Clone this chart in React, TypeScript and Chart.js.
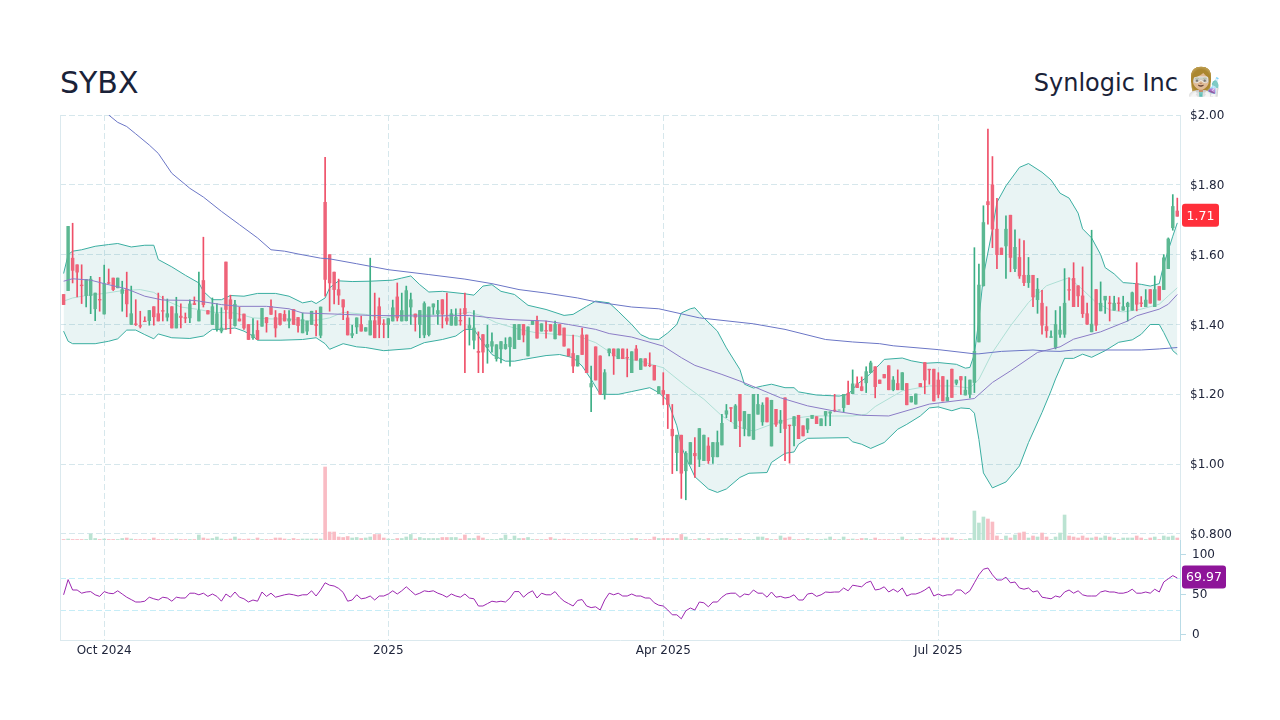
import { useEffect, useRef } from 'react';
import Chart from 'chart.js/auto';

const opens = [
	1.486, 1.497, 1.59, 1.571, 1.513, 1.483, 1.483, 1.445, 1.472, 1.43,
	1.52, 1.533, 1.505, 1.489, 1.5, 1.4, 1.402, 1.397, 1.41, 1.411,
	1.451, 1.431, 1.44, 1.421, 1.451, 1.39, 1.424, 1.42, 1.419, 1.46,
	1.41, 1.526, 1.44, 1.4, 1.388, 1.381, 1.579, 1.471, 1.397, 1.416,
	1.43, 1.4, 1.362, 1.383, 1.395, 1.42, 1.452, 1.42, 1.431, 1.429,
	1.41, 1.443, 1.42, 1.376, 1.381, 1.4, 1.4, 1.369, 1.75, 1.6,
	1.55, 1.5, 1.471, 1.419, 1.369, 1.393, 1.4, 1.381, 1.37, 1.411,
	1.451, 1.402, 1.4, 1.41, 1.479, 1.41, 1.411, 1.45, 1.43, 1.4,
	1.37, 1.371, 1.45, 1.431, 1.471, 1.419, 1.398, 1.398, 1.412, 1.446,
	1.389, 1.355, 1.323, 1.371, 1.335, 1.338, 1.302, 1.33, 1.331, 1.336,
	1.331, 1.357, 1.4, 1.31, 1.4, 1.411, 1.381, 1.383, 1.4, 1.359,
	1.4, 1.39, 1.33, 1.317, 1.281, 1.37, 1.37, 1.221, 1.336, 1.31,
	1.2, 1.319, 1.33, 1.302, 1.33, 1.306, 1.262, 1.33, 1.271, 1.302,
	1.284, 1.283, 1.202, 1.211, 1.2, 1.1, 1.033, 1.083, 0.981, 1.0,
	1.031, 1.014, 1.01, 1.052, 1.021, 1.021, 1.055, 1.143, 1.162, 1.102,
	1.2, 1.102, 1.081, 1.071, 1.143, 1.121, 1.19, 1.052, 1.157, 1.117,
	1.19, 1.112, 1.11, 1.14, 1.11, 1.1, 1.131, 1.136, 1.11, 1.14,
	1.146, 1.155, 1.155, 1.162, 1.203, 1.202, 1.23, 1.222, 1.233, 1.262,
	1.279, 1.241, 1.257, 1.282, 1.213, 1.231, 1.213, 1.231, 1.178, 1.172,
	1.231, 1.291, 1.272, 1.272, 1.241, 1.251, 1.181, 1.272, 1.232, 1.251,
	1.198, 1.2, 1.234, 1.35, 1.511, 1.752, 1.8, 1.673, 1.619, 1.625,
	1.713, 1.56, 1.592, 1.541, 1.52, 1.541, 1.471, 1.461, 1.394, 1.363,
	1.334, 1.372, 1.372, 1.5, 1.532, 1.511, 1.482, 1.431, 1.379, 1.5,
	1.439, 1.47, 1.462, 1.441, 1.462, 1.441, 1.451, 1.441, 1.518, 1.462,
	1.451, 1.5, 1.451, 1.509, 1.5, 1.56, 1.677, 1.725,
];
const closes = [
	1.457, 1.681, 1.555, 1.55, 1.511, 1.529, 1.53, 1.49, 1.47, 1.517,
	1.518, 1.5, 1.533, 1.5, 1.459, 1.431, 1.4, 1.395, 1.408, 1.44,
	1.422, 1.41, 1.438, 1.431, 1.39, 1.431, 1.42, 1.418, 1.459, 1.457,
	1.44, 1.457, 1.43, 1.451, 1.431, 1.39, 1.443, 1.417, 1.458, 1.41,
	1.39, 1.357, 1.371, 1.357, 1.446, 1.405, 1.429, 1.39, 1.4, 1.41,
	1.416, 1.4, 1.397, 1.414, 1.41, 1.438, 1.397, 1.45, 1.529, 1.519,
	1.5, 1.484, 1.45, 1.37, 1.374, 1.419, 1.381, 1.391, 1.411, 1.362,
	1.4, 1.4, 1.417, 1.448, 1.419, 1.44, 1.497, 1.471, 1.421, 1.44,
	1.46, 1.45, 1.459, 1.44, 1.43, 1.41, 1.431, 1.421, 1.41, 1.43,
	1.397, 1.39, 1.32, 1.321, 1.343, 1.351, 1.342, 1.351, 1.343, 1.362,
	1.4, 1.4, 1.37, 1.393, 1.411, 1.361, 1.402, 1.381, 1.381, 1.4,
	1.37, 1.338, 1.31, 1.281, 1.311, 1.314, 1.262, 1.231, 1.241, 1.2,
	1.262, 1.33, 1.31, 1.33, 1.302, 1.304, 1.322, 1.298, 1.302, 1.281,
	1.282, 1.241, 1.222, 1.2, 1.171, 1.081, 1.083, 0.974, 1.031, 1.062,
	1.024, 1.102, 1.083, 1.01, 1.062, 1.062, 1.117, 1.153, 1.16, 1.167,
	1.124, 1.151, 1.143, 1.2, 1.171, 1.169, 1.121, 1.183, 1.114, 1.126,
	1.102, 1.11, 1.136, 1.073, 1.081, 1.13, 1.14, 1.116, 1.13, 1.151,
	1.15, 1.153, 1.155, 1.2, 1.171, 1.23, 1.219, 1.211, 1.265, 1.29,
	1.222, 1.231, 1.247, 1.213, 1.241, 1.213, 1.262, 1.17, 1.194, 1.201,
	1.222, 1.241, 1.27, 1.181, 1.2, 1.181, 1.191, 1.191, 1.241, 1.241,
	1.212, 1.241, 1.323, 1.513, 1.692, 1.743, 1.673, 1.6, 1.6, 1.673,
	1.592, 1.621, 1.539, 1.52, 1.541, 1.479, 1.501, 1.398, 1.382, 1.365,
	1.4, 1.384, 1.461, 1.498, 1.451, 1.482, 1.431, 1.401, 1.401, 1.398,
	1.461, 1.481, 1.46, 1.461, 1.46, 1.451, 1.461, 1.491, 1.458, 1.46,
	1.47, 1.461, 1.5, 1.47, 1.591, 1.645, 1.738, 1.71,
];
const highs = [
	1.486, 1.681, 1.69, 1.571, 1.571, 1.529, 1.538, 1.49, 1.535, 1.57,
	1.559, 1.533, 1.533, 1.524, 1.55, 1.51, 1.471, 1.438, 1.422, 1.44,
	1.451, 1.49, 1.481, 1.473, 1.451, 1.478, 1.459, 1.433, 1.471, 1.479,
	1.55, 1.65, 1.44, 1.476, 1.46, 1.448, 1.579, 1.484, 1.469, 1.45,
	1.43, 1.4, 1.417, 1.411, 1.446, 1.42, 1.471, 1.44, 1.431, 1.44,
	1.44, 1.443, 1.42, 1.433, 1.41, 1.438, 1.44, 1.45, 1.879, 1.6,
	1.55, 1.53, 1.471, 1.438, 1.398, 1.419, 1.424, 1.391, 1.59, 1.49,
	1.476, 1.414, 1.417, 1.47, 1.519, 1.49, 1.51, 1.49, 1.43, 1.44,
	1.465, 1.45, 1.459, 1.469, 1.471, 1.49, 1.443, 1.445, 1.445, 1.49,
	1.419, 1.44, 1.379, 1.371, 1.398, 1.376, 1.342, 1.351, 1.362, 1.364,
	1.4, 1.4, 1.4, 1.393, 1.411, 1.424, 1.402, 1.41, 1.4, 1.41,
	1.4, 1.39, 1.33, 1.37, 1.311, 1.39, 1.37, 1.281, 1.336, 1.31,
	1.271, 1.33, 1.33, 1.33, 1.33, 1.33, 1.322, 1.34, 1.302, 1.302,
	1.319, 1.283, 1.222, 1.262, 1.2, 1.171, 1.083, 1.083, 1.036, 1.062,
	1.076, 1.102, 1.083, 1.076, 1.062, 1.095, 1.143, 1.171, 1.162, 1.171,
	1.2, 1.151, 1.143, 1.2, 1.2, 1.176, 1.19, 1.183, 1.157, 1.154,
	1.19, 1.112, 1.136, 1.14, 1.11, 1.13, 1.14, 1.136, 1.13, 1.151,
	1.15, 1.2, 1.155, 1.2, 1.238, 1.27, 1.25, 1.25, 1.279, 1.295,
	1.279, 1.241, 1.257, 1.282, 1.251, 1.27, 1.262, 1.231, 1.194, 1.201,
	1.231, 1.291, 1.272, 1.272, 1.262, 1.251, 1.241, 1.272, 1.241, 1.251,
	1.251, 1.241, 1.62, 1.573, 1.74, 1.96, 1.881, 1.761, 1.619, 1.711,
	1.713, 1.671, 1.645, 1.64, 1.592, 1.541, 1.532, 1.498, 1.451, 1.382,
	1.44, 1.451, 1.56, 1.534, 1.577, 1.511, 1.565, 1.461, 1.67, 1.5,
	1.522, 1.481, 1.481, 1.481, 1.477, 1.481, 1.464, 1.493, 1.577, 1.48,
	1.5, 1.5, 1.539, 1.509, 1.6, 1.648, 1.772, 1.762,
];
const lows = [
	1.457, 1.497, 1.519, 1.479, 1.46, 1.45, 1.431, 1.411, 1.438, 1.43,
	1.517, 1.497, 1.505, 1.438, 1.422, 1.4, 1.397, 1.39, 1.408, 1.398,
	1.398, 1.41, 1.41, 1.41, 1.39, 1.39, 1.39, 1.405, 1.405, 1.457,
	1.41, 1.45, 1.43, 1.4, 1.381, 1.376, 1.386, 1.374, 1.395, 1.41,
	1.386, 1.357, 1.357, 1.357, 1.395, 1.378, 1.429, 1.364, 1.398, 1.41,
	1.39, 1.4, 1.378, 1.376, 1.371, 1.4, 1.367, 1.362, 1.481, 1.438,
	1.459, 1.457, 1.414, 1.37, 1.362, 1.374, 1.381, 1.381, 1.37, 1.362,
	1.362, 1.362, 1.362, 1.41, 1.41, 1.41, 1.41, 1.4, 1.381, 1.362,
	1.362, 1.367, 1.429, 1.4, 1.39, 1.4, 1.398, 1.398, 1.398, 1.262,
	1.341, 1.33, 1.262, 1.262, 1.289, 1.321, 1.295, 1.29, 1.329, 1.281,
	1.331, 1.357, 1.35, 1.31, 1.4, 1.361, 1.381, 1.361, 1.381, 1.359,
	1.37, 1.338, 1.31, 1.262, 1.281, 1.314, 1.262, 1.15, 1.241, 1.2,
	1.186, 1.31, 1.257, 1.302, 1.302, 1.25, 1.262, 1.298, 1.271, 1.281,
	1.279, 1.241, 1.202, 1.17, 1.102, 0.973, 0.981, 0.902, 0.898, 1.0,
	0.962, 0.993, 1.01, 1.002, 1.002, 1.021, 1.055, 1.133, 1.122, 1.102,
	1.05, 1.081, 1.081, 1.071, 1.143, 1.111, 1.121, 1.052, 1.108, 1.09,
	1.01, 1.003, 1.052, 1.073, 1.081, 1.09, 1.131, 1.116, 1.11, 1.11,
	1.11, 1.15, 1.155, 1.15, 1.171, 1.202, 1.219, 1.21, 1.205, 1.262,
	1.19, 1.231, 1.247, 1.213, 1.21, 1.213, 1.213, 1.17, 1.178, 1.172,
	1.222, 1.202, 1.229, 1.181, 1.19, 1.181, 1.181, 1.191, 1.227, 1.2,
	1.198, 1.19, 1.205, 1.35, 1.51, 1.687, 1.62, 1.56, 1.6, 1.532,
	1.551, 1.551, 1.532, 1.511, 1.506, 1.451, 1.432, 1.372, 1.363, 1.363,
	1.33, 1.363, 1.363, 1.47, 1.451, 1.451, 1.42, 1.4, 1.379, 1.382,
	1.439, 1.432, 1.41, 1.441, 1.439, 1.441, 1.41, 1.441, 1.439, 1.451,
	1.451, 1.461, 1.451, 1.47, 1.5, 1.56, 1.67, 1.71,
];

// hundred thousand shares
const volumes = [
	0.5, 1, 0.5, 0.5, 0.5, 0.5, 6, 1.5, 0.5, 1,
	0.5, 0.5, 0.5, 1.5, 2, 1, 0.5, 0.5, 0.5, 0.5,
	2, 0.5, 0.5, 0.5, 0.5, 1, 0.5, 0.5, 0.5, 0.5,
	5, 2, 1, 1.5, 3, 1, 0.5, 1, 3, 1,
	0.5, 1, 0.5, 2, 0.5, 0.5, 0.5, 2, 2, 1,
	0.5, 1.5, 0.5, 1, 1, 1, 1, 1, 73, 8,
	8, 3, 2.5, 3.5, 2, 2.5, 1.5, 2, 3, 5.5,
	5.5, 2, 1, 0.5, 1.5, 1.5, 3, 5.5, 1, 2.5,
	1.5, 1.5, 1.5, 1.5, 2.5, 2.5, 2.5, 2.5, 1, 5,
	1.5, 1.5, 4, 2, 0.5, 0.5, 0.5, 1.5, 5, 0.5,
	4, 1.5, 1.5, 2.5, 0.5, 0.5, 0.5, 0.5, 2.5, 1,
	0.5, 1, 0.5, 0.5, 0.5, 0.5, 0.5, 0.5, 0.5, 0.5,
	0.5, 0.5, 0.5, 0.5, 0.5, 0.5, 1.5, 1.5, 0.5, 0.5,
	0.5, 3, 1.5, 1.5, 1.5, 1.5, 1.5, 5.5, 3, 0.5,
	0.5, 1.5, 0.5, 1.5, 0.5, 1, 1.5, 1.5, 0.5, 0.5,
	1.5, 0.5, 0.5, 0.5, 3, 3, 1.5, 0.5, 0.5, 4,
	2, 3, 0.5, 0.5, 0.5, 1.5, 0.5, 0.5, 0.5, 1,
	3, 0.5, 0.5, 3, 0.5, 1, 0.5, 1.5, 1.5, 0.5,
	2, 0.5, 0.5, 0.5, 0.5, 0.5, 3, 0.5, 0.5, 0.5,
	1.5, 0.5, 0.5, 2, 0.5, 2, 2, 2, 0.5, 0.5,
	0.5, 1.5, 29, 17, 23, 21, 18, 4, 0.5, 4,
	2, 5, 7, 8, 2, 4, 3, 7, 3, 0.5,
	3, 7, 25, 4, 3, 2, 4, 2, 2, 3,
	2, 4, 3, 2, 0.5, 2, 2, 2, 4, 2,
	0.5, 2, 3, 0.5, 4, 3, 4, 2,
];

const rsi = [
	49, 68, 55, 55, 51, 52.5, 53, 49, 47, 53,
	51, 50.4, 54, 50, 46, 43, 40, 40, 41, 46,
	44, 42.5, 46, 45, 41, 46, 45, 45, 51, 51,
	49, 51, 47, 50, 47, 41, 50, 46, 52.5, 46,
	44, 40, 42.5, 41, 52.5, 47, 51, 46, 47.5, 49,
	50, 49, 47.5, 49, 49, 54, 47.5, 55, 64, 61,
	60, 57, 52, 41, 42.5, 49, 44, 45, 47.5, 42.5,
	47.5, 47.5, 50, 54, 50, 54, 59, 54, 49, 51,
	54, 53, 54, 51, 49, 46, 50, 47.5, 46, 50,
	45, 44, 35, 35, 38, 41, 40, 41, 40, 45,
	53, 53, 46, 51, 54, 45, 51, 49, 49, 53,
	46, 41, 38, 35, 42, 43, 35, 33, 34, 30,
	42.5, 51, 49, 51, 47.5, 47.5, 50, 47.5, 47.5, 45,
	45, 39, 36, 35, 30, 24, 24, 19, 29, 32.5,
	30, 40, 39, 34, 40, 40, 46, 50, 51, 51,
	46, 50, 49, 55, 51, 51, 46, 52.5, 46, 47,
	45, 46, 49, 42.5, 42.5, 50, 51, 47, 49, 52.5,
	52, 52.5, 52.5, 57.5, 54, 61, 60, 59, 64, 66,
	55, 56, 59, 52.5, 56, 52.5, 57.5, 47.5, 50, 50,
	52, 55, 59, 47.5, 50, 47.5, 49, 49, 55, 55,
	50, 54, 64, 74, 81, 82.5, 74, 67.5, 67.5, 71,
	64, 65, 57.5, 56, 57.5, 52.5, 54, 46, 45, 44,
	47.5, 46, 52.5, 55, 51, 54, 49, 47.5, 47.5, 47.5,
	52.5, 54, 52.5, 52.5, 51, 51, 52.5, 56, 51, 51,
	52.5, 51, 56, 52.5, 65, 69, 73, 69.97,
];

// overlay lines, bar number and value at each corner of the line
const bbUpperAt = [
	0, 1, 2, 4, 7, 10, 12, 15, 18, 20, 21, 24, 27, 30, 31, 33, 35, 37, 40, 43, 47, 50, 53, 55, 56, 58,
	59, 61, 64, 68, 73, 75, 77, 79, 81, 84, 89, 91, 93, 95, 97, 100, 103, 107, 111, 113, 116, 118, 121,
	123, 126, 128, 130, 132, 134, 136, 137, 139, 140, 142, 145, 147, 150, 151, 153, 155, 157, 160, 162, 163, 167, 172, 174, 176, 178, 181,
	182, 186, 188, 191, 194, 198, 200, 201, 202, 203, 204, 206, 207, 209, 212, 214, 217, 219, 221, 223, 225, 226, 228, 230, 231, 233, 235, 237, 239, 241, 243, 244, 246, 247,
];
const bbUpper = [
	1.546, 1.6, 1.61, 1.614, 1.624, 1.629, 1.632, 1.622, 1.627, 1.627, 1.586, 1.565, 1.541, 1.519, 1.495, 1.471, 1.471, 1.483, 1.481, 1.489, 1.489, 1.481, 1.462, 1.467, 1.46, 1.476,
	1.505, 1.525, 1.523, 1.524, 1.527, 1.533, 1.539, 1.514, 1.493, 1.495, 1.488, 1.484, 1.51, 1.514, 1.495, 1.486, 1.455, 1.443, 1.426, 1.429, 1.452, 1.467, 1.462,
	1.438, 1.4, 1.371, 1.359, 1.357, 1.376, 1.4, 1.433, 1.445, 1.448, 1.419, 1.381, 1.333, 1.271, 1.229, 1.218, 1.224, 1.229, 1.219, 1.219, 1.207, 1.198, 1.195, 1.2, 1.229, 1.248, 1.286,
	1.3, 1.304, 1.296, 1.289, 1.291, 1.286, 1.275, 1.277, 1.315, 1.415, 1.539, 1.673, 1.75, 1.797, 1.85, 1.861, 1.836, 1.814, 1.776, 1.762, 1.719, 1.674, 1.648, 1.6, 1.563, 1.545, 1.52, 1.518, 1.515, 1.51, 1.517, 1.572, 1.653, 1.691,
];
const bbLowerAt = [
	0, 1, 2, 7, 10, 12, 14, 16, 18, 20, 21, 24, 28, 31, 33, 35, 38, 40, 42, 43, 48, 53, 56, 58,
	59, 62, 65, 67, 71, 77, 80, 84, 87, 89, 91, 93, 95, 98, 100, 102, 107, 110, 113, 115, 117,
	119, 123, 126, 130, 132, 134, 136, 137, 138, 140, 143, 145, 147, 150, 152, 156, 157, 160, 162, 163, 165, 174, 175, 177, 179, 182,
	185, 187, 190, 192, 194, 197, 199, 201, 202, 203, 204, 206, 209, 212, 214, 217, 219, 220, 222, 224, 226, 228, 231, 234, 237, 239, 241, 243, 244, 246, 247,
];
const bbLower = [
	1.381, 1.352, 1.345, 1.345, 1.352, 1.359, 1.384, 1.384, 1.371, 1.359, 1.373, 1.362, 1.36, 1.367, 1.386, 1.386, 1.39, 1.381, 1.367, 1.355, 1.355, 1.357, 1.362, 1.345,
	1.329, 1.345, 1.336, 1.334, 1.325, 1.331, 1.348, 1.357, 1.367, 1.386, 1.386, 1.348, 1.314, 1.295, 1.295, 1.3, 1.311, 1.314, 1.305, 1.281, 1.243,
	1.2, 1.2, 1.208, 1.219, 1.205, 1.181, 1.11, 1.052, 1.019, 0.964, 0.929, 0.919, 0.929, 0.962, 0.974, 0.976, 1.005, 1.031, 1.035, 1.057, 1.074, 1.076, 1.064, 1.057, 1.045, 1.062,
	1.1, 1.114, 1.138, 1.161, 1.164, 1.153, 1.161, 1.159, 1.146, 1.071, 0.975, 0.932, 0.949, 0.995, 1.062, 1.148, 1.21, 1.244, 1.303, 1.303, 1.315, 1.306, 1.325, 1.349, 1.356, 1.372, 1.4, 1.4, 1.377, 1.325, 1.314,
];
const bbMidAt = [
	0, 2, 5, 9, 13, 17, 20, 23, 26, 30, 33, 38, 42, 46, 50, 54, 57,
	59, 62, 67, 70, 78, 85, 90, 93, 96, 101, 105, 110, 114, 118,
	123, 128, 133, 138, 142, 146, 150, 153, 157, 161, 166, 171, 175, 178,
	180, 186, 192, 197, 201, 203, 206, 210, 214, 218, 221, 223, 226, 229, 232, 235, 239, 243, 245, 247,
];
const bbMid = [
	1.467, 1.476, 1.483, 1.489, 1.497, 1.5, 1.492, 1.467, 1.45, 1.443, 1.435, 1.433, 1.419, 1.416, 1.416, 1.41, 1.414,
	1.419, 1.435, 1.429, 1.419, 1.429, 1.426, 1.435, 1.424, 1.405, 1.386, 1.376, 1.371, 1.367, 1.348,
	1.305, 1.295, 1.276, 1.224, 1.186, 1.138, 1.105, 1.095, 1.114, 1.13, 1.138, 1.138, 1.138, 1.143,
	1.165, 1.21, 1.224, 1.224, 1.218, 1.243, 1.32, 1.396, 1.463, 1.511, 1.525, 1.534, 1.5, 1.463, 1.442, 1.436, 1.444, 1.458, 1.482, 1.505,
];
const sma50At = [
	0, 2, 6, 9, 14, 18, 22, 29, 35, 39, 45, 50, 53, 60,
	68, 81, 90, 95, 99, 107, 112, 118, 121,
	126, 133, 137, 140, 146, 150, 154, 159, 165, 171, 177,
	183, 192, 202, 206, 210, 216, 221, 224, 230, 236, 238, 243, 245, 247,
];
const sma50 = [
	1.524, 1.531, 1.527, 1.517, 1.502, 1.481, 1.47, 1.469, 1.457, 1.452, 1.452, 1.445, 1.433, 1.43,
	1.426, 1.424, 1.426, 1.419, 1.414, 1.41, 1.4, 1.386, 1.374,
	1.364, 1.338, 1.305, 1.283, 1.257, 1.238, 1.217, 1.19, 1.167, 1.152, 1.14,
	1.138, 1.172, 1.188, 1.234, 1.267, 1.32, 1.336, 1.358, 1.379, 1.41, 1.425, 1.444, 1.458, 1.486,
];
const sma200At = [
	10, 12, 14, 16, 19, 21, 24, 28, 31, 35, 39, 43, 46, 49, 52, 57,
	59, 65, 72, 81, 89, 95, 101, 107, 114, 118,
	126, 132, 141, 153, 160, 169, 175, 181,
	184, 194, 202, 203, 208, 215, 218, 221, 224, 231, 239, 243, 247,
];
const sma200 = [
	2.0, 1.979, 1.967, 1.946, 1.914, 1.89, 1.833, 1.79, 1.765, 1.724, 1.686, 1.648, 1.614, 1.61, 1.602, 1.59,
	1.588, 1.574, 1.557, 1.543, 1.53, 1.517, 1.5, 1.49, 1.476, 1.465,
	1.45, 1.445, 1.419, 1.402, 1.386, 1.357, 1.35, 1.345,
	1.339, 1.328, 1.316, 1.316, 1.323, 1.327, 1.324, 1.323, 1.327, 1.327, 1.327, 1.33, 1.334,
];

const priceTicks = [0.8, 1.0, 1.2, 1.4, 1.6, 1.8, 2.0];
const priceTickLabels = ['$0.800', '$1.00', '$1.20', '$1.40', '$1.60', '$1.80', '$2.00'];
const rsiTicks = [0, 30, 50, 70, 100];
const rsiTickLabels = ['0', '', '50', '', '100'];
const dateTicks = [9, 72, 133, 194];
const dateTickLabels = ['Oct 2024', '2025', 'Apr 2025', 'Jul 2025'];
const lastPrice = 1.71;
const lastRsi = 69.97;

const FONT = '"DejaVu Sans", sans-serif';
const TEXT = '#20263c';
const GRID = '#d6e7ec';
const GRID_RSI = '#c6edf7';
const EDGE = '#dbe9ee';
const UP_BODY = '#5cb892';
const UP_WICK = '#3cae85';
const DOWN_BODY = '#ee6379';
const DOWN_WICK = '#ef4f68';
const X_MIN = -0.8;
const X_MAX = 247.6;

const isUp = closes.map((c, i) => c >= opens[i]);
const toPoints = (at: number[], values: number[]) =>
	at.map((x, i) => ({ x, y: values[i] }));

const line = (label: string, data: object[], color: string, order: number, extra = {}) => ({
	type: 'line' as const,
	label,
	data,
	borderColor: color,
	borderWidth: 1,
	pointRadius: 0,
	tension: 0,
	order,
	...extra,
});

const badge = (id: string, axis: string, value: number, text: string, color: string, width: number) => ({
	id,
	afterDraw(chart: any) {
		const ctx = chart.ctx;
		const y = chart.scales[axis].getPixelForValue(value);
		ctx.save();
		ctx.fillStyle = color;
		ctx.beginPath();
		ctx.roundRect(1182, y - 12.5, width, 23, 3);
		ctx.fill();
		ctx.fillStyle = '#ffffff';
		ctx.font = `12.5px ${FONT}`;
		ctx.textAlign = 'center';
		ctx.textBaseline = 'middle';
		ctx.fillText(text, 1182 + width / 2, y);
		ctx.restore();
	},
});

const leftEdge = {
	id: 'leftEdge',
	afterDraw(chart: any) {
		const { left, top, bottom } = chart.chartArea;
		const ctx = chart.ctx;
		ctx.save();
		ctx.strokeStyle = EDGE;
		ctx.beginPath();
		ctx.moveTo(left + 0.5, top);
		ctx.lineTo(left + 0.5, bottom);
		ctx.stroke();
		ctx.restore();
	},
};

// keep the plot rectangle exact, no room for half tick labels
const noScalePadding = (scale: any) => {
	scale.paddingTop = 0;
	scale.paddingBottom = 0;
	scale.paddingLeft = 0;
	scale.paddingRight = 0;
};

const xAxis = (showLabels: boolean, color: string) => ({
	type: 'linear' as const,
	min: X_MIN,
	max: X_MAX,
	offset: false,
	afterBuildTicks: (scale: any) => {
		scale.ticks = dateTicks.map((value) => ({ value }));
	},
	afterFit: (scale: any) => {
		scale.height = showLabels ? 20 : 0;
		noScalePadding(scale);
	},
	grid: { color, offset: false, drawTicks: false },
	border: { color: EDGE, dash: [6, 3] },
	ticks: {
		display: showLabels,
		autoSkip: false,
		maxRotation: 0,
		padding: 4,
		color: TEXT,
		font: { family: FONT, size: 12 },
		callback: (_v: any, i: number) => dateTickLabels[i],
	},
});

export default function App() {
	const priceRef = useRef<HTMLCanvasElement>(null);
	const rsiRef = useRef<HTMLCanvasElement>(null);

	useEffect(() => {
		if (!priceRef.current || !rsiRef.current) return;

		const priceChart = new Chart(priceRef.current, {
			type: 'bar',
			data: {
				datasets: [
					line('BB lower', toPoints(bbLowerAt, bbLower), '#3aaea1', 10),
					line('BB upper', toPoints(bbUpperAt, bbUpper), '#3aaea1', 11, {
						fill: { target: 0 },
						backgroundColor: 'rgba(38, 150, 150, 0.1)',
					}),
					line('BB mid', toPoints(bbMidAt, bbMid), '#aedfd5', 9),
					{
						type: 'bar',
						label: 'Volume',
						yAxisID: 'yVol',
						data: volumes.map((v, i) => ({ x: i, y: v })),
						backgroundColor: isUp.map((up) => (up ? '#bbe3d2' : '#f9bcc4')),
						barThickness: 3,
						grouped: false,
						order: 8,
					},
					{
						type: 'bar',
						label: 'Wick',
						data: highs.map((h, i) => ({ x: i, y: [lows[i], h] })),
						backgroundColor: isUp.map((up) => (up ? UP_WICK : DOWN_WICK)),
						barThickness: 1,
						grouped: false,
						order: 7,
					},
					{
						type: 'bar',
						label: 'Body',
						data: opens.map((o, i) => ({ x: i, y: [o, closes[i]] })),
						backgroundColor: isUp.map((up) => (up ? UP_BODY : DOWN_BODY)),
						barThickness: 2.8,
						grouped: false,
						order: 6,
					},
					line('SMA 50', toPoints(sma50At, sma50), '#8b7cc6', 2),
					line('SMA 200', toPoints(sma200At, sma200), '#6b76c6', 1),
				] as any,
			},
			options: {
				responsive: false,
				animation: false,
				events: [],
				layout: { padding: { left: 60, top: 115, right: 0, bottom: 0 } },
				plugins: { legend: { display: false }, tooltip: { enabled: false } },
				scales: {
					x: xAxis(false, GRID),
					y: {
						position: 'right',
						min: 0.7828,
						max: 2.0,
						afterBuildTicks: (scale: any) => {
							scale.ticks = priceTicks.map((value) => ({ value }));
						},
						afterFit: (scale: any) => {
							scale.width = 100;
							noScalePadding(scale);
						},
						grid: { color: GRID, drawTicks: false },
						border: { color: EDGE, dash: [6, 3] },
						ticks: {
							padding: 10,
							labelOffset: 1,
							color: TEXT,
							font: { family: FONT, size: 12 },
							callback: (_v: any, i: number) => priceTickLabels[i],
						},
					},
					yVol: {
						display: false,
						position: 'right',
						min: 0,
						max: 425,
					},
				},
			} as any,
			plugins: [leftEdge, badge('priceBadge', 'y', lastPrice, lastPrice.toFixed(2), '#ff2f3a', 37)],
		});

		const rsiChart = new Chart(rsiRef.current, {
			type: 'line',
			data: {
				datasets: [
					line('RSI', rsi.map((v, i) => ({ x: i, y: v })), '#9c27b0', 1),
				] as any,
			},
			options: {
				responsive: false,
				animation: false,
				events: [],
				layout: { padding: { left: 60, top: 0, right: 0, bottom: 0 } },
				plugins: { legend: { display: false }, tooltip: { enabled: false } },
				scales: {
					x: xAxis(true, GRID),
					y: {
						position: 'right',
						min: -7.5,
						max: 117.5,
						afterBuildTicks: (scale: any) => {
							scale.ticks = rsiTicks.map((value) => ({ value }));
						},
						afterFit: (scale: any) => {
							scale.width = 100;
							noScalePadding(scale);
						},
						grid: {
							tickLength: 6,
							tickColor: (c: any) => (rsiTickLabels[c.index] ? '#b9dbe6' : 'transparent'),
							color: (c: any) => (rsiTickLabels[c.index] ? 'transparent' : GRID_RSI),
						},
						border: { color: '#b9dbe6', dash: [6, 3] },
						ticks: {
							padding: 6,
							labelOffset: 1,
							autoSkip: false,
							color: TEXT,
							font: { family: FONT, size: 12 },
							callback: (_v: any, i: number) => rsiTickLabels[i],
						},
					},
				},
			} as any,
			plugins: [leftEdge, badge('rsiBadge', 'y', lastRsi, lastRsi.toFixed(2), '#8e1599', 44)],
		});

		return () => {
			priceChart.destroy();
			rsiChart.destroy();
		};
	}, []);

	return (
		<div style={{ position: 'absolute', left: 0, top: 0, width: 1280, height: 720, background: '#fff', overflow: 'hidden', fontFamily: FONT, color: '#1a2238' }}>
			<div style={{ position: 'absolute', left: 60, top: 64, fontSize: 30, lineHeight: '38px' }}>SYBX</div>
			<div style={{ position: 'absolute', right: 102, top: 66, fontSize: 24, lineHeight: '34px', whiteSpace: 'nowrap' }}>Synlogic Inc</div>
			<div style={{ position: 'absolute', right: 59, top: 65, fontSize: 27, lineHeight: '34px', whiteSpace: 'nowrap' }}>👩🏼‍🔬</div>
			<canvas ref={priceRef} width={1280} height={540} style={{ position: 'absolute', left: 0, top: 0 }} />
			<canvas ref={rsiRef} width={1280} height={120} style={{ position: 'absolute', left: 0, top: 540 }} />
		</div>
	);
}
